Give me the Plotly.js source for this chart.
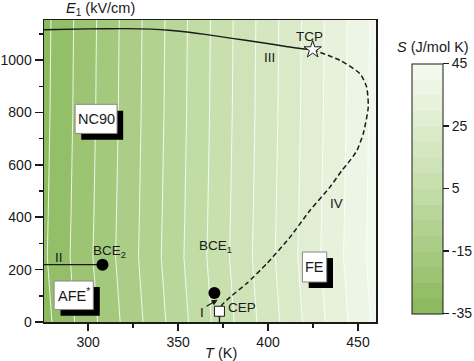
<!DOCTYPE html>
<html><head><meta charset="utf-8">
<script src="https://cdn.plot.ly/plotly-3.0.1.min.js"></script>
<style>html,body{margin:0;padding:0;background:#fff;} #chart{width:474px;height:361px;}</style>
</head><body><div id="chart"></div>
<script>
// Entropy field S (J/mol K): grid
const gridT = [275, 285, 295, 305, 315, 325, 335, 345, 355, 365, 375, 385, 395, 405, 415, 425, 435, 445, 455, 465];
const gridE = [0, 100, 250, 400, 600, 800, 1000, 1160];
const sAlongT = [-31.7, -27.8, -23.8, -19.9, -15.9, -12.0, -8.0, -4.1, -0.1, 3.8, 7.8, 11.7, 15.7, 19.6, 23.6, 27.5, 31.5, 35.4, 39.4, 43.3];
const sShiftE = [-0.2, 0.2, 0.8, 0.6, 0.4, 0.2, 0.1, 0.0];

// Phase boundaries
const lineIII_T = [275.5, 300, 320, 335, 345, 355, 365, 380, 395, 410, 418, 424.8];
const lineIII_E = [1116, 1119, 1120, 1118, 1114, 1107, 1098, 1083, 1068, 1052, 1044, 1040];
const lineIV_T = [424.8, 440, 451.1, 454.8, 455.7, 452.9, 449.4, 445.6, 441.1, 434.4, 423.3, 412.2, 399.3, 388.1, 378.9, 374.3, 373];
const lineIV_E = [1040, 999, 948, 897, 821, 719, 655, 617, 579, 515, 426, 324, 223, 147, 95, 64, 41];
const lineII_T = [275.5, 308];
const lineII_E = [219, 219];
const lineI_T = [373, 373];
const lineI_E = [0, 41];

// Special points
const bce2 = {T: [308], E: [219]};
const bce1 = {T: [370.2], E: [110.7]};
const cep = {T: [373], E: [41]};
const tcp = {T: [424.8], E: [1040]};

// Colour levels and colorbar ticks
const sMin = -35, sMax = 45, sStep = 5;
const cbTicks = [-35, -15, 5, 25, 45];

const zS = gridE.map((e, i) => sAlongT.map(s => +(s + sShiftE[i]).toFixed(2)));

const FONT = 'Liberation Sans, Arial, Helvetica, sans-serif';
const INK = '#1a1a1a';
const baseScale = [[0, [137, 184, 90]], [0.5, [197, 222, 170]], [1, [246, 250, 241]]];
const rgb = c => 'rgb(' + c.map(v => Math.round(v)).join(',') + ')';
function scaleAt(t) {
  for (let i = 0; i < baseScale.length - 1; i++) {
    const a = baseScale[i], b = baseScale[i + 1];
    if (t <= b[0]) {
      const f = (t - a[0]) / (b[0] - a[0]);
      return a[1].map((v, k) => v + f * (b[1][k] - v));
    }
  }
  return baseScale[baseScale.length - 1][1];
}
const contScale = baseScale.map(s => [s[0], rgb(s[1])]);
// Stepped colour scale for the colorbar (same band colours as the contour fills)
const nBands = Math.round((sMax - sMin) / sStep);
const stepScale = [];
for (let k = 0; k < nBands; k++) {
  const col = rgb(scaleAt((k + 0.5) / nBands));
  stepScale.push([k / nBands, col]);
  stepScale.push([(k + 1) / nBands, col]);
}

const traces = [
  {
    type: 'contour', x: gridT, y: gridE, z: zS,
    zmin: sMin, zmax: sMax, zauto: false,
    contours: {start: sMin, end: sMax, size: sStep, coloring: 'fill', showlines: true},
    line: {color: 'rgba(255,255,255,0.85)', width: 1, smoothing: 0},
    colorscale: contScale, showscale: false,
    hoverinfo: 'skip'
  },
  {
    type: 'scatter', mode: 'markers', x: [300, 300], y: [-500, -500], hoverinfo: 'skip', cliponaxis: true,
    marker: {
      color: [sMin, sMax], cmin: sMin, cmax: sMax, colorscale: stepScale, showscale: true, opacity: 0, size: 1,
      colorbar: {
        thickness: 31, thicknessmode: 'pixels', len: 250, lenmode: 'pixels',
        x: 1.1075, xanchor: 'left', xpad: 0, y: 0.442, yanchor: 'middle', ypad: 0,
        outlinewidth: 1, outlinecolor: INK,
        tickmode: 'array', tickvals: cbTicks, ticktext: cbTicks.map(String),
        ticks: 'outside', ticklen: 6, tickwidth: 1.5, tickcolor: INK,
        tickfont: {family: FONT, size: 14, color: INK}
      }
    }
  },
  {type: 'scatter', mode: 'lines', x: lineIII_T, y: lineIII_E, line: {color: INK, width: 1.4, shape: 'spline', smoothing: 0.6}, hoverinfo: 'skip'},
  {type: 'scatter', mode: 'lines', x: lineIV_T, y: lineIV_E, line: {color: INK, width: 1.5, dash: '5px,3px', shape: 'spline', smoothing: 0.6}, hoverinfo: 'skip'},
  {type: 'scatter', mode: 'lines', x: lineII_T, y: lineII_E, line: {color: INK, width: 1.4}, hoverinfo: 'skip'},
  {type: 'scatter', mode: 'lines', x: lineI_T, y: lineI_E, line: {color: INK, width: 1.4}, hoverinfo: 'skip'},
  {type: 'scatter', mode: 'markers', x: bce2.T, y: bce2.E, marker: {color: '#000', size: 12, symbol: 'circle'}, hoverinfo: 'skip'},
  {type: 'scatter', mode: 'markers', x: bce1.T, y: bce1.E, marker: {color: '#000', size: 12, symbol: 'circle'}, hoverinfo: 'skip'},
  {type: 'scatter', mode: 'markers', x: cep.T, y: cep.E, marker: {color: '#fff', size: 10, symbol: 'square', line: {color: INK, width: 1}}, hoverinfo: 'skip'},
  {type: 'scatter', mode: 'markers', x: tcp.T, y: tcp.E, marker: {color: '#fff', size: 13, symbol: 'star', line: {color: INK, width: 1}}, hoverinfo: 'skip'}
];

function box(x0, x1, y0, y1, dx, dy) {
  return [
    {type: 'rect', xref: 'x', yref: 'y', x0: x0 + dx, x1: x1 + dx, y0: y0 - dy, y1: y1 - dy, fillcolor: '#000', line: {width: 0}, layer: 'above'},
    {type: 'rect', xref: 'x', yref: 'y', x0: x0, x1: x1, y0: y0, y1: y1, fillcolor: '#fff', line: {color: '#888', width: 1}, layer: 'above'}
  ];
}
const shapes = [].concat(
  box(292.8, 316.1, 720, 831, 3.4, 24),
  box(281.1, 302.9, 47.3, 156.5, 3.6, 23),
  box(419.1, 432.6, 152.7, 267.2, 3.5, 23)
);

function lab(text, x, y, size) {
  return {text: text, x: x, y: y, xref: 'x', yref: 'y', showarrow: false, xanchor: 'center', yanchor: 'middle',
          font: {family: FONT, size: size || 13.5, color: INK}};
}
const annotations = [
  lab('TCP', 422.9, 1091),
  lab('III', 400.6, 1011),
  lab('IV', 437.8, 454),
  lab('II', 284.1, 248),
  lab('BCE<sub>2</sub>', 312.1, 268),
  lab('BCE<sub>1</sub>', 370.8, 287),
  lab('CEP', 385.4, 54),
  lab('I', 363.2, 38),
  lab('NC90', 304.45, 775.5, 14.5),
  lab('AFE<sup>*</sup>', 292.0, 104, 14.5),
  lab('FE', 425.85, 210, 14.5),
  {text: '', x: 372.0, y: 85, ax: 365, ay: 57, xref: 'x', yref: 'y', axref: 'x', ayref: 'y', showarrow: true,
   arrowhead: 2, arrowsize: 1, arrowwidth: 1.2, arrowcolor: INK, standoff: 0, startstandoff: 0},
  {text: '<i>E</i><sub>1</sub> (kV/cm)', xref: 'paper', yref: 'paper', x: 0.169, y: 1.035, showarrow: false,
   xanchor: 'center', yanchor: 'middle', font: {family: FONT, size: 14.5, color: INK}},
  {text: '<i>T</i> (K)', xref: 'paper', yref: 'paper', x: 0.533, y: -0.102, showarrow: false,
   xanchor: 'center', yanchor: 'middle', font: {family: FONT, size: 14.5, color: INK}},
  {text: '<i>S</i> (J/mol K)', xref: 'paper', yref: 'paper', x: 1.172, y: 0.912, showarrow: false,
   xanchor: 'center', yanchor: 'middle', font: {family: FONT, size: 14.5, color: INK}}
];

const axisCommon = {
  showline: true, linecolor: INK, linewidth: 1.5, mirror: true,
  ticks: 'outside', tickcolor: INK, tickwidth: 1.5,
  showgrid: false, zeroline: false,
  tickfont: {family: FONT, size: 14, color: INK}
};

const layout = {
  width: 474, height: 361,
  margin: {l: 44, r: 98, t: 20, b: 39, pad: 0, autoexpand: false},
  paper_bgcolor: '#fff', plot_bgcolor: '#fff',
  showlegend: false,
  font: {family: FONT, size: 13, color: INK},
  xaxis: Object.assign({}, axisCommon, {range: [275.5, 460], tick0: 300, dtick: 50, ticklen: 7, automargin: false,
    minor: {tick0: 300, dtick: 25, ticks: 'outside', ticklen: 4, tickcolor: INK, tickwidth: 1.5}}),
  yaxis: Object.assign({}, axisCommon, {range: [0, 1153], tick0: 0, dtick: 200, ticklen: 8, automargin: false,
    minor: {tick0: 0, dtick: 100, ticks: 'outside', ticklen: 4, tickcolor: INK, tickwidth: 1.5}}),
  shapes: shapes,
  annotations: annotations
};

Plotly.newPlot('chart', traces, layout, {displayModeBar: false, staticPlot: true});
</script>
</body></html>
